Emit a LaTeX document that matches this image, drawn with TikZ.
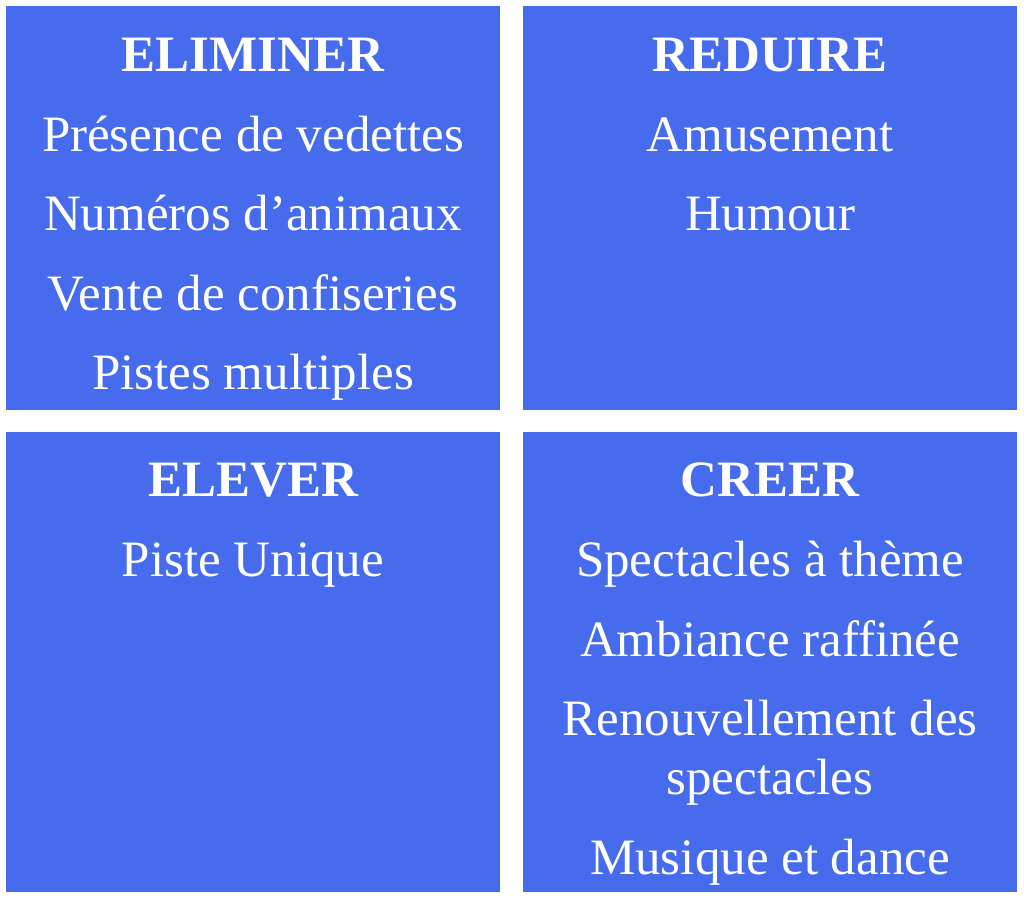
\documentclass[tikz,border=0pt]{standalone}
\usepackage{fontspec}
\setmainfont{Liberation Serif}
\usetikzlibrary{positioning}
\definecolor{boxblue}{RGB}{70,107,237}

\begin{document}
\begin{tikzpicture}[x=0.5pt,y=-0.5pt,
  quad/.style={fill=boxblue,draw=none,inner sep=0pt,minimum width=247pt},
  title/.style={text=white,font=\fontsize{25.5}{29.5}\selectfont\bfseries,inner sep=0pt,anchor=base},
  item/.style={text=white,font=\fontsize{25.5}{29.5}\selectfont,inner sep=0pt,anchor=base}]
\useasboundingbox (0,0) rectangle (1024,903);
\fill[white] (0,0) rectangle (1024,903);

\node [quad,minimum height=202pt] (elim) at (253,208) {};
\node [quad,minimum height=202pt] (redu) at (770,208) {};
\node [quad,minimum height=230pt] (elev) at (253,662) {};
\node [quad,minimum height=230pt] (cree) at (770,662) {};

\node [title] (telim) at ([yshift=-33pt]elim.north) {ELIMINER};
\node [item] (e1) at ([yshift=-39.8pt]telim.base) {Présence de vedettes};
\node [item] (e2) at ([yshift=-39.8pt]e1.base) {Numéros d’animaux};
\node [item] (e3) at ([yshift=-39.8pt]e2.base) {Vente de confiseries};
\node [item] (e4) at ([yshift=-39.8pt]e3.base) {Pistes multiples};

\node [title] (tredu) at ([yshift=-33pt]redu.north) {REDUIRE};
\node [item] (r1) at ([yshift=-39.8pt]tredu.base) {Amusement};
\node [item] (r2) at ([yshift=-39.8pt]r1.base) {Humour};

\node [title] (telev) at ([yshift=-32.7pt]elev.north) {ELEVER};
\node [item] (l1) at ([yshift=-39.8pt]telev.base) {Piste Unique};

\node [title] (tcree) at ([yshift=-32.7pt]cree.north) {CREER};
\node [item] (c1) at ([yshift=-39.8pt]tcree.base) {Spectacles à thème};
\node [item] (c2) at ([yshift=-39.8pt]c1.base) {Ambiance raffinée};
\node [item] (c3) at ([yshift=-39.6pt]c2.base) {Renouvellement des};
\node [item] (c3b) at ([yshift=-29.5pt]c3.base) {spectacles};
\node [item] (c4) at ([yshift=-40pt]c3b.base) {Musique et dance};
\end{tikzpicture}
\end{document}
